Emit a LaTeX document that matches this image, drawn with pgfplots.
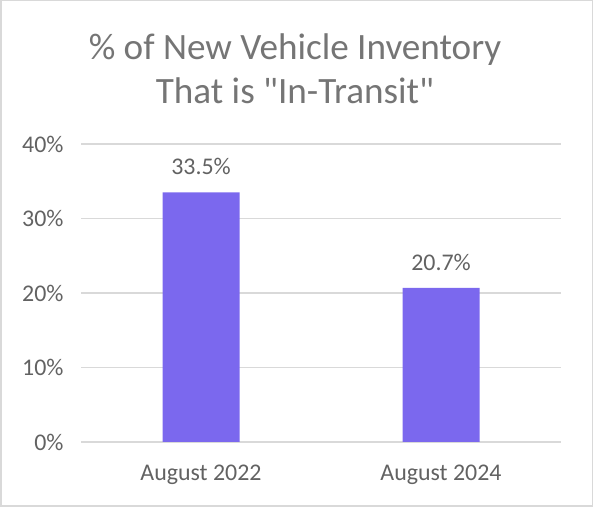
\documentclass[border=0pt]{standalone}
\usepackage{pgfplots}
\pgfplotsset{compat=1.18}
\usepackage{fontspec}
\setmainfont{Carlito}[Ligatures=TeXOff]
\definecolor{barc}{HTML}{7B68EE}
\definecolor{txt}{HTML}{626262}
\definecolor{ttl}{HTML}{757575}
\definecolor{grd}{HTML}{D9D9D9}
\begin{document}
\begin{tikzpicture}[x=1bp,y=1bp]
\draw[grd, line width=1.5bp] (0.75,0.75) rectangle (592.25,506.25);
\node[anchor=base, text=ttl, font=\fontsize{37.3}{40}\selectfont, inner sep=0pt] at (295,447) {\% of New Vehicle Inventory};
\node[anchor=base, text=ttl, font=\fontsize{37.3}{40}\selectfont, inner sep=0pt] at (295,403) {That is "In-Transit"};
\begin{axis}[
  at={(81bp,65bp)}, anchor=south west,
  scale only axis, width=480bp, height=298bp,
  ybar, bar width=77bp,
  xmin=-0.5, xmax=1.5, ymin=0, ymax=40,
  ytick={0,10,20,30,40},
  yticklabel={\pgfmathprintnumber{\tick}\%},
  /pgf/number format/assume math mode=true,
  xtick={0,1}, xticklabels={August 2022, August 2024},
  axis line style={draw=none},
  tick style={draw=none},
  ymajorgrids, grid style={grd, line width=1.3bp},
  ticklabel style={text=txt, font=\fontsize{24}{28}\selectfont},
  yticklabel style={xshift=-14bp},
  xticklabel style={yshift=-15bp},
  clip=false,
  nodes near coords={\pgfmathprintnumber[fixed,precision=1,fixed zerofill]{\pgfplotspointmeta}\%},
  nodes near coords style={anchor=base, yshift=17.5bp, text=txt, font=\fontsize{24}{28}\selectfont},
]
\addplot[fill=barc, draw=none] coordinates {(0,33.5) (1,20.7)};
\end{axis}
\end{tikzpicture}
\end{document}
